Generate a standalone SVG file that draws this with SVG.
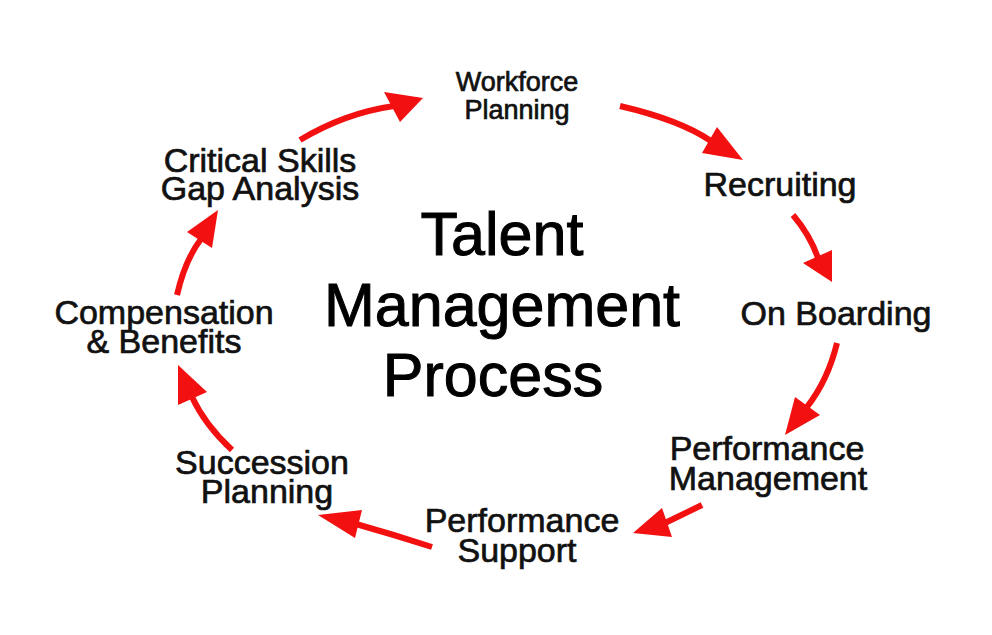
<svg xmlns="http://www.w3.org/2000/svg" width="992" height="635" viewBox="0 0 992 635">
<style>
.lbl{font-family:"Liberation Sans",Arial,sans-serif;font-size:34px;fill:#111;stroke:#111;stroke-width:0.7;text-anchor:middle}
.sm{font-size:27px}
.title{font-family:"Liberation Sans",Arial,sans-serif;font-size:61px;fill:#000;stroke:#000;stroke-width:1;text-anchor:middle}
.shaft{fill:none;stroke:#f21010;stroke-width:6;stroke-linecap:butt}
.head{fill:#f21010}
</style>
<rect width="992" height="635" fill="#fff"/>
<g id="title">
<text class="title" x="502" y="255">Talent</text>
<text class="title" x="502" y="326">Management</text>
<text class="title" x="493" y="396">Process</text>
</g>
<g id="workforce-planning">
<text class="lbl sm" x="517" y="91">Workforce</text>
<text class="lbl sm" x="517" y="119">Planning</text>
</g>
<g id="recruiting"><text class="lbl" x="780" y="196">Recruiting</text></g>
<g id="on-boarding"><text class="lbl" x="836" y="325">On Boarding</text></g>
<g id="performance-management">
<text class="lbl" x="767" y="460">Performance</text>
<text class="lbl" x="768" y="490">Management</text>
</g>
<g id="performance-support">
<text class="lbl" x="522" y="532">Performance</text>
<text class="lbl" x="517" y="562">Support</text>
</g>
<g id="succession-planning">
<text class="lbl" x="262" y="474">Succession</text>
<text class="lbl" x="267" y="503">Planning</text>
</g>
<g id="compensation-benefits">
<text class="lbl" x="164" y="324">Compensation</text>
<text class="lbl" x="164" y="353">&amp; Benefits</text>
</g>
<g id="critical-skills">
<text class="lbl" x="260" y="172">Critical Skills</text>
<text class="lbl" x="260" y="200">Gap Analysis</text>
</g>
<g id="connectors">
<path class="shaft" d="M300,140 Q345,113 394,106"/>
<polygon class="head" points="384,92 400,122 423,98"/>
<path class="shaft" d="M620,106 Q680,120 711,141"/>
<polygon class="head" points="717,127 702,153 743,160"/>
<path class="shaft" d="M793,215 Q810,235 818,258"/>
<polygon class="head" points="803,263 832,250 832,282"/>
<path class="shaft" d="M837,343 Q828,380 807,407"/>
<polygon class="head" points="795,397 820,415 785,435"/>
<path class="shaft" d="M702,505 L665,523"/>
<polygon class="head" points="662,508 672,537 633,533"/>
<path class="shaft" d="M432,547 Q395,535 356,524"/>
<polygon class="head" points="362,510 355,538 318,515"/>
<path class="shaft" d="M232,450 Q205,425 192,397"/>
<polygon class="head" points="178,405 207,392 178,365"/>
<path class="shaft" d="M177,295 Q185,260 201,239"/>
<polygon class="head" points="187,232 212,248 218,210"/>
</g>
</svg>
